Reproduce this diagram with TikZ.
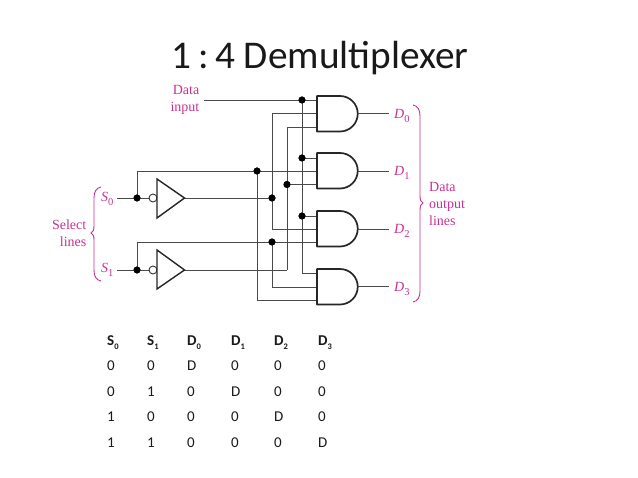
\documentclass[tikz,border=0pt]{standalone}
\usepackage{fontspec}
\setmainfont{Liberation Serif}
\newfontfamily\carl{Carlito}
\definecolor{mag}{HTML}{C9318F}
\definecolor{wire}{HTML}{4A4A4A}
\newcommand{\magsym}[2]{\textit{#1}\raisebox{-0.3em}{\fontsize{10.5}{12}\selectfont #2}}
\newcommand{\tabsub}[2]{\textbf{#1}\raisebox{-0.25em}{\fontsize{8.5}{9}\selectfont\textbf{#2}}}
\tikzset{
  wire/.style={draw=wire,line width=0.95pt},
  dot/.style={circle,fill=black,inner sep=0pt,minimum size=7pt},
  gate/.style={draw=black!85,line width=1.7pt,fill=white,line join=round},
  inv/.style={draw=black!85,line width=1.4pt,fill=white,line join=miter},
  bubble/.style={circle,draw=black!80,line width=0.9pt,fill=white,inner sep=0pt,minimum size=8pt},
  lab/.style={text=mag,font=\fontsize{14}{17}\selectfont,inner sep=0pt},
  brace/.style={draw=mag,line width=0.9pt},
  tab/.style={font=\carl\fontsize{15}{16}\selectfont,text=black!90,anchor=mid west,inner sep=0pt},
}
\begin{document}
\begin{tikzpicture}[x=1pt,y=-1pt]
\useasboundingbox (0,0) rectangle (638,478);
\node[font=\carl\fontsize{39.3}{41}\selectfont,text=black!90,inner sep=0pt] (title) at (320,58) {1\,:\,4 Demultiplexer};

% named points
\coordinate (din) at (204,100);
\coordinate (s0in) at (117,198);
\coordinate (s1in) at (117,270);
\coordinate (n0) at (137,171);
\coordinate (n1) at (137,242);
\foreach \n/\y in {0a/100,0b/113,0c/127,1a/158,1b/171,1c/184.5,2a/216,2b/229,2c/242,3a/273,3b/287,3c/300}
  \coordinate (g\n) at (316,\y);
\coordinate (t1) at (302,273);
\coordinate (u0) at (272,113);
\coordinate (u1) at (272,229);
\coordinate (u2) at (272,287);
\coordinate (v0) at (287,127);
\coordinate (v1) at (287,270);
\coordinate (w1) at (257,300);
\coordinate (o0) at (389,113.5);
\coordinate (o1) at (389,171);
\coordinate (o2) at (389,229);
\coordinate (o3) at (389,286.5);

% junctions
\node[dot] (j1) at (302,100) {};
\node[dot] (j2) at (302,158) {};
\node[dot] (j3) at (302,216) {};
\node[dot] (j4) at (257,171) {};
\node[dot] (j5) at (287,184.5) {};
\node[dot] (j6) at (272,198) {};
\node[dot] (j7) at (272,242) {};
\node[dot] (j8) at (137,198) {};
\node[dot] (j9) at (137,270) {};

% wires
\path[wire] (din) -- (g0a);
\path[wire] (j1.center) -- (t1) -- (g3a);
\path[wire] (j2.center) -- (g1a);
\path[wire] (j3.center) -- (g2a);
\path[wire] (g0b) -- (u0) -- (u1) -- (g2b);
\path[wire] (g0c) -- (v0) -- (v1);
\path[wire] (j5.center) -- (g1c);
\path[wire] (j8.center) -- (n0) -- (g1b);
\path[wire] (j4.center) -- (w1) -- (g3c);
\path[wire] (j9.center) -- (n1) -- (g2c);
\path[wire] (j7.center) -- (u2) -- (g3b);
\path[wire] (s0in) -- (j6.center);
\path[wire] (s1in) -- (v1);
% redraw junctions over wires
\foreach \p in {j1,j2,j3,j4,j5,j6,j7,j8,j9}
  \fill[black] (\p) circle[radius=3.5];

% inverters
\node[bubble] (b0) at (153,198) {};
\node[bubble] (b1) at (153,270) {};
\path[inv] (157,179) coordinate (i0) -- (184.5,198) -- (157,218) -- cycle;
\path[inv] (157,250) coordinate (i1) -- (184.5,270) -- (157,289) -- cycle;

% AND gates
\foreach \t/\m in {96/g0,153/g1,211/g2,269/g3}{
  \path[gate] (317,\t) -- (340,\t) arc[start angle=-90,end angle=90,radius=17.75] -- (317,\t+35.5) -- cycle;
}
\foreach \i/\y/\o in {0/113.5/o0,1/171/o1,2/229/o2,3/286.5/o3}
  \path[wire] (358,\y) -- (\o);

% labels
\node[lab,anchor=east,align=right] (ldata) at (199.5,99.5) {Data\\input};
\node[lab,anchor=east,align=right] (lsel) at (86.5,233) {Select\\lines};
\node[lab,anchor=west,align=left] (lout) at (429,203.5) {Data\\output\\lines};
\node[lab,anchor=mid west] (ls0) at (101,199) {\magsym{S}{0}};
\node[lab,anchor=mid west] (ls1) at (101,270) {\magsym{S}{1}};
\node[lab,anchor=mid west] (ld0) at (394,116) {\magsym{D}{0}};
\node[lab,anchor=mid west] (ld1) at (394,173.5) {\magsym{D}{1}};
\node[lab,anchor=mid west] (ld2) at (394,231.5) {\magsym{D}{2}};
\node[lab,anchor=mid west] (ld3) at (394,289) {\magsym{D}{3}};

% braces
\path[brace] (101,187) .. controls (96,188) and (94,192) .. (94,198) -- (94,226) .. controls (94,230) and (93,232) .. (91,233) .. controls (93,234) and (94,236) .. (94,240) -- (94,270) .. controls (94,276) and (96,280) .. (101,281);
\path[brace] (413,105) .. controls (418,106) and (420,110) .. (420,116) -- (420,196) .. controls (420,200) and (421,202) .. (423,203) .. controls (421,204) and (420,206) .. (420,210) -- (420,291) .. controls (420,297) and (418,301) .. (413,302);

% table
\node[tab] (h0) at (107,343) {\tabsub{S}{0}};
\node[tab] (h1) at (147,343) {\tabsub{S}{1}};
\node[tab] (h2) at (187,343) {\tabsub{D}{0}};
\node[tab] (h3) at (231,343) {\tabsub{D}{1}};
\node[tab] (h4) at (274,343) {\tabsub{D}{2}};
\node[tab] (h5) at (318,343) {\tabsub{D}{3}};
\foreach \r/\y/\a/\b/\c/\d/\e/\f in {
  1/368.5/0/0/D/0/0/0,
  2/394.5/0/1/0/D/0/0,
  3/419.5/1/0/0/0/D/0,
  4/445.5/1/1/0/0/0/D}{
  \node[tab] (r\r a) at (107,\y) {\a};
  \node[tab] (r\r b) at (147,\y) {\b};
  \node[tab] (r\r c) at (187,\y) {\c};
  \node[tab] (r\r d) at (231,\y) {\d};
  \node[tab] (r\r e) at (274,\y) {\e};
  \node[tab] (r\r f) at (318,\y) {\f};
}
\end{tikzpicture}
\end{document}
